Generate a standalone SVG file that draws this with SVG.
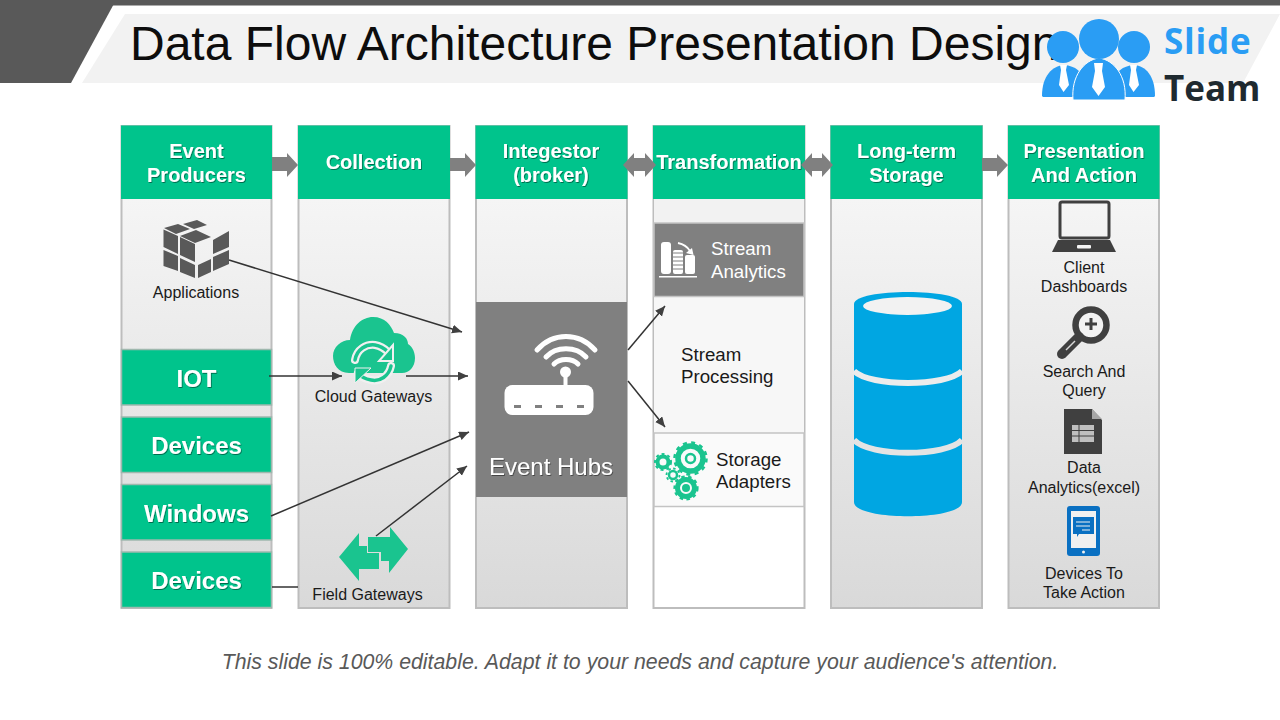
<svg xmlns="http://www.w3.org/2000/svg" width="1280" height="720" viewBox="0 0 1280 720">
<defs>
<linearGradient id="col" x1="0" y1="0" x2="0" y2="1"><stop offset="0" stop-color="#fafafa"/><stop offset="1" stop-color="#d9d9d9"/></linearGradient>
<filter id="sh" x="-10%" y="-20%" width="120%" height="140%"><feDropShadow dx="0.8" dy="1" stdDeviation="0.7" flood-color="#000" flood-opacity="0.45"/></filter>
<marker id="ah" markerUnits="userSpaceOnUse" markerWidth="11" markerHeight="10" refX="10" refY="4.500" orient="auto"><path d="M0,0L10,4.500L0,9z" fill="#404040"/></marker>
</defs>
<style>
text{font-family:"Liberation Sans",Arial,sans-serif}
.col{fill:url(#col);stroke:#bdbdbd;stroke-width:2}
.hd{fill:#00c48c}
.ht{fill:#fff;font-size:20px;font-weight:700;text-anchor:middle;filter:url(#sh)}
.bt{fill:#fff;font-size:24px;font-weight:700;text-anchor:middle;filter:url(#sh)}
.lb{fill:#1a1a1a;font-size:16px;text-anchor:middle}
.lt{fill:#1a1a1a;font-size:18.700px}
.wt{fill:#fff;font-size:18.700px}
.gr{fill:#808080}
.dk{fill:#595959}
.tl{fill:#1ac48f}
.conn{stroke:#333;stroke-width:1.500;fill:none}
.arr{marker-end:url(#ah)}
.ga{fill:#808080}
</style>

<g id="title-band">
<rect x="0" y="0" width="1280" height="5.500" fill="#595959"/>
<path d="M0,0H116L71,83H0z" fill="#595959"/>
<path d="M125,14H1280L1243,83H82z" fill="#f2f2f2"/>
<text x="130" y="60" font-size="48" fill="#0d0d0d">Data Flow Architecture Presentation Design</text>
</g>

<g id="col-event-producers">
<rect class="col" x="121.500" y="126" width="150" height="482"/>
<rect class="hd" x="121" y="125.500" width="151" height="73.500"/>
<text class="ht" x="196.500" y="158">Event</text><text class="ht" x="196.500" y="181.500">Producers</text>
<g id="icon-applications" class="dk">
<path d="M163.500,229.500L178,236V254L163.500,247zM180,237L195,244V262L180,255zM163.500,250L178,256V271L163.500,266zM180,258L195,265V278L180,272zM198,265L211,259V272L198,278zM213,257L229,250V264L213,271zM213,240L229,231V247L213,254z"/>
<path d="M164,228L178,224L190,229L176,234zM183,224L197,220L207,225L194,229zM180,236L196,230L211,237L195,243z"/>
</g>
<text class="lb" x="196" y="298">Applications</text>
</g>
<g id="node-iot"><rect class="hd" x="121.500" y="349.500" width="150" height="55.500" stroke="#9fb8ae" stroke-width="1.500"/><text class="bt" x="196.500" y="386.500">IOT</text></g>
<g id="node-devices-1"><rect class="hd" x="121.500" y="417" width="150" height="55.500" stroke="#9fb8ae" stroke-width="1.500"/><text class="bt" x="196.500" y="454">Devices</text></g>
<g id="node-windows"><rect class="hd" x="121.500" y="484.500" width="150" height="55.500" stroke="#9fb8ae" stroke-width="1.500"/><text class="bt" x="196.500" y="521.500">Windows</text></g>
<g id="node-devices-2"><rect class="hd" x="121.500" y="552" width="150" height="55.500" stroke="#9fb8ae" stroke-width="1.500"/><text class="bt" x="196.500" y="589">Devices</text></g>

<g id="col-collection">
<rect class="col" x="298.500" y="126" width="151" height="482"/>
<rect class="hd" x="298" y="125.500" width="152" height="73.500"/>
<text class="ht" x="374" y="169">Collection</text>
<g id="icon-cloud">
<path class="tl" d="M349,373C338,373 333,364 333,356C333,347 341,340 350,340C352,326 362,317 373,317C385,317 391,325 394,333C404,333 408,339 408,344C413,347 415,353 415,358C415,367 409,373 402,373z"/>
<g fill="none" stroke-linecap="round">
<g stroke="#f0f0f0" stroke-width="8"><path d="M355,360C357,349 366,344 375,345C381,346 385,349 388,352"/><path d="M391,366C389,376 380,382 371,380C365,379 361,377 358,373"/></g>
<g stroke="#1ac48f" stroke-width="3.500"><path d="M355,360C357,349 366,344 375,345C381,346 385,349 388,352"/><path d="M391,366C389,376 380,382 371,380C365,379 361,377 358,373"/></g>
</g>
<path d="M393,345V361H379z" fill="#1ac48f" stroke="#f0f0f0" stroke-width="2"/>
<path d="M355,368H371L355,383z" fill="#1ac48f" stroke="#f0f0f0" stroke-width="1"/>
</g>
<text class="lb" x="373.500" y="402">Cloud Gateways</text>
<g id="icon-field" class="tl">
<path d="M339,557L359,533V546H367V553H379V569H359V581z"/>
<path d="M408,549L390,527V537H368V552H381V561H389V573z"/>
</g>
<text class="lb" x="367.500" y="600">Field Gateways</text>
</g>

<g id="col-integestor">
<rect class="col" x="476" y="126" width="151" height="482"/>
<rect class="hd" x="475.500" y="125.500" width="152" height="73.500"/>
<text class="ht" x="551" y="158">Integestor</text><text class="ht" x="551" y="181.500">(broker)</text>
</g>
<g id="node-event-hubs">
<rect class="gr" x="476" y="302" width="151" height="195"/>
<g fill="none" stroke="#fff" stroke-linecap="round"><path d="M537,350C553,332 579,332 595,350" stroke-width="5"/><path d="M546,357C556,346 576,346 586,357" stroke-width="5"/><path d="M554,364C560,358 572,358 578,364" stroke-width="5"/></g>
<circle cx="565.500" cy="372" r="5.500" fill="#fff"/>
<rect x="563.500" y="372" width="4" height="14" fill="#fff"/>
<rect x="504.500" y="385" width="89" height="30" rx="8" fill="#fff"/>
<path d="M514,405h7v3h-7zM535,405h7v3h-7zM556,405h7v3h-7zM577,405h7v3h-7z" fill="#808080"/>
<text x="551" y="475" font-size="24" fill="#fff" text-anchor="middle" filter="url(#sh)">Event Hubs</text>
</g>

<g id="col-transformation">
<rect x="653.500" y="126" width="151" height="482" fill="#fff" stroke="#bdbdbd" stroke-width="2"/>
<rect x="654" y="199" width="150" height="24" fill="#f2f2f2"/>
<rect x="654" y="297" width="150" height="136" fill="#f7f7f7"/>
<rect class="hd" x="653" y="125.500" width="152" height="73.500"/>
<text class="ht" x="729" y="169">Transformation</text>
</g>
<g id="node-stream-analytics">
<rect class="gr" x="654" y="223" width="150" height="73.500" stroke="#c4c4c4" stroke-width="1.500"/>
<g fill="#fff"><rect x="661" y="242" width="10" height="32" rx="3"/><rect x="673" y="250" width="10" height="24" rx="2"/><rect x="685" y="255" width="10" height="19" rx="2"/><rect x="659" y="276" width="38" height="1.500"/><path d="M692,248L693.500,255L686,253z"/></g>
<path d="M678,243C683,244 687,246 690,251" fill="none" stroke="#fff" stroke-width="1.800"/>
<path d="M673,253h10M673,257h10M673,261h10M673,265h10M673,269h10" stroke="#808080" stroke-width="1"/>
<text class="wt" x="711" y="255">Stream</text><text class="wt" x="711" y="278">Analytics</text>
</g>
<g id="node-stream-processing">
<text class="lt" x="681" y="360.500">Stream</text><text class="lt" x="681" y="383">Processing</text>
</g>
<g id="node-storage-adapters">
<rect x="654" y="433" width="150" height="73.500" fill="#fafafa" stroke="#c4c4c4" stroke-width="1.500"/>
<g fill="none" stroke="#1ac48f">
<circle cx="690.500" cy="458.500" r="12.500" stroke-width="5.500"/><circle cx="690.500" cy="458.500" r="16" stroke-width="2.500" stroke-dasharray="4 4.400"/><circle cx="690.500" cy="458.500" r="4.500" stroke-width="2.500"/>
<circle cx="663" cy="462" r="5.500" stroke-width="4"/><circle cx="663" cy="462" r="8" stroke-width="2" stroke-dasharray="3 3"/>
<circle cx="673" cy="475" r="4" stroke-width="2.500"/><circle cx="673" cy="475" r="6.500" stroke-width="1.800" stroke-dasharray="2.500 2.500"/>
<circle cx="686" cy="488" r="8.500" stroke-width="5"/><circle cx="686" cy="488" r="11.500" stroke-width="2.200" stroke-dasharray="3.500 3.500"/>
</g>
<circle cx="686" cy="488" r="4" class="tl"/>
<text class="lt" x="716" y="465.500">Storage</text><text class="lt" x="716" y="488">Adapters</text>
</g>

<g id="col-long-term-storage">
<rect class="col" x="831" y="126" width="151" height="482"/>
<rect class="hd" x="830.500" y="125.500" width="152" height="73.500"/>
<text class="ht" x="906.500" y="158">Long-term</text><text class="ht" x="906.500" y="181.500">Storage</text>
<g id="icon-database">
<path d="M854,304C854,288 962,288 962,304V502C962,521 854,521 854,502z" fill="#00a6e2"/>
<ellipse cx="907.500" cy="306" rx="44.500" ry="9" fill="#f2f2f2"/>
<path d="M854,371C870,387 946,387 962,371" fill="none" stroke="#ececec" stroke-width="6"/>
<path d="M854,440C870,457 946,457 962,440" fill="none" stroke="#e4e4e4" stroke-width="6"/>
</g>
</g>

<g id="col-presentation">
<rect class="col" x="1008.500" y="126" width="150.500" height="482"/>
<rect class="hd" x="1008" y="125.500" width="151.500" height="73.500"/>
<text class="ht" x="1084" y="158">Presentation</text><text class="ht" x="1084" y="181.500">And Action</text>
<g id="icon-laptop">
<rect x="1060" y="202" width="49" height="36" rx="2" fill="none" stroke="#404040" stroke-width="3"/>
<path d="M1058,240H1110L1116,252H1052z" fill="#404040"/><rect x="1077" y="245" width="14" height="3.500" rx="1" fill="#f5f5f5"/>
</g>
<text class="lb" x="1084" y="273">Client</text><text class="lb" x="1084" y="292">Dashboards</text>
<g id="icon-search">
<circle cx="1091" cy="325" r="15.500" fill="#f2f2f2" stroke="#404040" stroke-width="6.500"/>
<path d="M1079,337L1062,354" stroke="#404040" stroke-width="10" stroke-linecap="round"/>
<path d="M1075,341L1066,350" stroke="#d9d9d9" stroke-width="1.500"/>
<path d="M1091,318V330M1085,324H1097" stroke="#404040" stroke-width="3"/>
</g>
<text class="lb" x="1084" y="376.500">Search And</text><text class="lb" x="1084" y="396">Query</text>
<g id="icon-excel">
<path d="M1064,409H1092L1102,420V454H1064z" fill="#404040"/>
<path d="M1092,409L1102,419H1092z" fill="#a6a6a6"/>
<rect x="1072" y="425" width="22" height="17" fill="#bfbfbf"/>
<path d="M1072,430.500H1094M1072,436H1094M1079,425V442" stroke="#404040" stroke-width="1"/>
</g>
<text class="lb" x="1084" y="473">Data</text><text class="lb" x="1084" y="492.500">Analytics(excel)</text>
<g id="icon-tablet">
<rect x="1067" y="506" width="33" height="50" rx="3" fill="#0a70c2"/>
<rect x="1071" y="511" width="25" height="37" fill="#f0f0f0"/>
<path d="M1073,517H1094V534H1079L1077,537V534H1073z" fill="#0a70c2"/>
<path d="M1076,522H1090M1076,526H1090M1082,530H1090" stroke="#f0f0f0" stroke-width="1.200"/>
<circle cx="1083.500" cy="552" r="1.500" fill="#f0f0f0"/>
</g>
<text class="lb" x="1084" y="579">Devices To</text><text class="lb" x="1084" y="598">Take Action</text>
</g>

<g id="connectors">
<path class="ga" d="M272,157H287V153L298,165L287,177V171H272z"/>
<path class="ga" d="M450,158H465V153L476,165L465,177V171H450z"/>
<path class="ga" d="M623,165L634,153V158H645V153L656,165L645,177V171H634V177z"/>
<path class="ga" d="M801,165L812,153V158H822V153L833,165L822,177V171H812V177z"/>
<path class="ga" d="M982,158H997V154L1008,165L997,177V171H982z"/>
<path class="conn arr" d="M229,260L462,332"/>
<path class="conn arr" d="M269,376H342"/>
<path class="conn arr" d="M406,376H468"/>
<path class="conn arr" d="M271,516L469,432"/>
<path class="conn" d="M272,587H298"/>
<path class="conn arr" d="M376,536L467,466"/>
<path class="conn arr" d="M628,350L665,306"/>
<path class="conn arr" d="M628,381L665,427"/>
</g>

<g id="logo">
<g fill="#2a9df4">
<path d="M1042,96C1042,76 1052,66 1064,65C1076,66 1082,72 1084,80V97H1046C1044,97 1042,97 1042,96z"/>
<path d="M1155,96C1155,76 1146,66 1134,65C1122,66 1116,72 1114,80V97H1151C1153,97 1155,97 1155,96z"/>
<path d="M1073,100C1071,76 1084,60 1099,58C1114,60 1127,76 1125,100z" stroke="#fff" stroke-width="1"/>
<circle cx="1063" cy="47" r="16"/><circle cx="1134" cy="47" r="16"/><circle cx="1099" cy="39" r="20"/>
</g>
<g fill="#fff"><path d="M1060,65H1067L1066,70L1069,85L1063.500,92L1059,85L1061,70z"/><path d="M1130,65H1137L1136,70L1139,85L1133.500,92L1129,85L1131,70z"/><path d="M1094,63H1103L1102,71L1105,87L1098.500,96L1092,87L1095,71z"/></g>
<text x="1164" y="54" font-size="35" letter-spacing="0.800" font-weight="700" fill="#2a9df4" style="font-family:'Open Sans',sans-serif">Slide</text>
<text x="1164" y="101" font-size="35" font-weight="700" fill="#1f2a30" style="font-family:'Open Sans',sans-serif">Team</text>
</g>

<text id="footer" x="640" y="669" font-size="21.300" font-style="italic" fill="#595959" text-anchor="middle">This slide is 100% editable. Adapt it to your needs and capture your audience's attention.</text>
</svg>
